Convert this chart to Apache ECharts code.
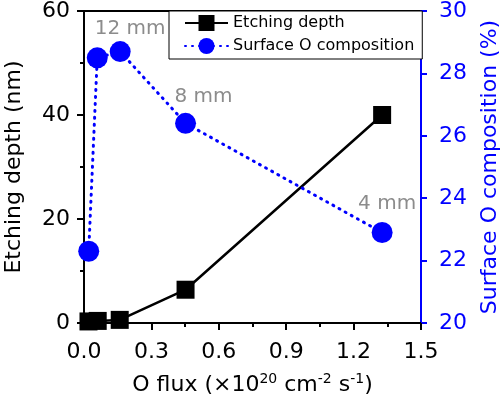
<!DOCTYPE html>
<html>
<head>
<meta charset="utf-8">
<script src="https://cdn.jsdelivr.net/npm/echarts@6/dist/echarts.min.js"></script>
<style>
  html, body { margin: 0; padding: 0; background: #fff; }
  #chart { width: 500px; height: 404px; }
</style>
</head>
<body>
<div id="chart"></div>
<script>
// etching depth (left axis)
const depthFlux = [0.02, 0.061, 0.159, 0.452, 1.327];
const depthNm = [0.3, 0.4, 0.6, 6.4, 40.0];

// surface O composition (right axis)
const oFlux = [0.021, 0.059, 0.161, 0.452, 1.327];
const oComp = [22.3, 28.5, 28.7, 26.4, 22.9];
const spotLabels = ['', '', '12 mm', '8 mm', '4 mm'];
const labelOffsets = [[0, 0], [0, 0], [10, 3], [18, -1], [5, -3]];

const FONT = 'DejaVu Sans, sans-serif';
const BLUE = '#0000ff';

const chart = echarts.init(document.getElementById('chart'));

chart.setOption({
  animation: false,
  textStyle: { fontFamily: FONT },
  grid: {
    left: 84, right: 79, top: 11, bottom: 81,
    outerBoundsMode: 'none',
    containLabel: false,
    show: true, borderColor: '#000', borderWidth: 2
  },
  legend: {
    orient: 'vertical',
    left: 169, top: 11,
    padding: [4, 8, 5, 15],
    itemGap: 7,
    itemWidth: 43,
    itemHeight: 20,
    borderColor: '#000',
    borderWidth: 1,
    borderRadius: 0,
    backgroundColor: '#fff',
    textStyle: { fontSize: 16, color: '#000', fontFamily: FONT },
    data: ['Etching depth', 'Surface O composition']
  },
  xAxis: {
    type: 'value',
    min: 0, max: 1.5, interval: 0.3,
    name: 'O flux (×10{s|20} cm{s|-2} s{s|-1})',
    nameLocation: 'middle',
    nameGap: 49,
    nameTextStyle: {
      fontSize: 22, color: '#000', fontFamily: FONT,
      rich: { s: { fontSize: 14, padding: [0, 0, 13, 0], fontFamily: FONT, color: '#000' } }
    },
    axisLine: { lineStyle: { color: '#000', width: 2 } },
    axisTick: { inside: false, length: 7, lineStyle: { width: 2 } },
    minorTick: { show: true, splitNumber: 2, length: 4, lineStyle: { color: '#000', width: 2 } },
    splitLine: { show: false },
    axisLabel: {
      fontSize: 22, color: '#000', margin: 18,
      formatter: v => v.toFixed(1)
    }
  },
  yAxis: [
    {
      type: 'value',
      min: 0, max: 60, interval: 20,
      position: 'left',
      name: 'Etching depth (nm)',
      nameLocation: 'middle',
      nameGap: 59,
      nameTextStyle: { fontSize: 22, color: '#000', fontFamily: FONT },
      axisLine: { show: true, lineStyle: { color: '#000', width: 2 } },
      axisTick: { show: true, length: 7, lineStyle: { width: 2 } },
      minorTick: { show: true, splitNumber: 2, length: 4, lineStyle: { color: '#000', width: 2 } },
      splitLine: { show: false },
      axisLabel: { fontSize: 22, color: '#000', margin: 14 }
    },
    {
      type: 'value',
      min: 20, max: 30, interval: 2,
      position: 'right',
      name: 'Surface O composition (%)',
      nameLocation: 'middle',
      nameGap: 58,
      nameRotate: 90,
      nameTextStyle: { fontSize: 22, color: BLUE, fontFamily: FONT },
      axisLine: { show: true, lineStyle: { color: BLUE, width: 2 } },
      axisTick: { show: true, length: 6, lineStyle: { color: BLUE, width: 2 } },
      splitLine: { show: false },
      axisLabel: { fontSize: 22, color: BLUE, margin: 18 }
    }
  ],
  series: [
    {
      name: 'Etching depth',
      type: 'line',
      yAxisIndex: 0,
      data: depthFlux.map((x, i) => [x, depthNm[i]]),
      symbol: 'rect',
      symbolSize: 18,
      itemStyle: { color: '#000' },
      lineStyle: { color: '#000', width: 2.5 },
      z: 3
    },
    {
      name: 'Surface O composition',
      type: 'line',
      yAxisIndex: 1,
      data: oFlux.map((x, i) => ({
        value: [x, oComp[i]],
        label: {
          show: spotLabels[i] !== '',
          formatter: spotLabels[i],
          position: 'top',
          distance: 5,
          offset: labelOffsets[i],
          fontSize: 20,
          color: '#8c8c8c',
          fontFamily: FONT
        }
      })),
      symbol: 'circle',
      symbolSize: 21,
      itemStyle: { color: BLUE },
      lineStyle: { color: BLUE, width: 3, type: [1, 6], cap: 'round' },
      z: 4
    }
  ]
});
</script>
</body>
</html>
